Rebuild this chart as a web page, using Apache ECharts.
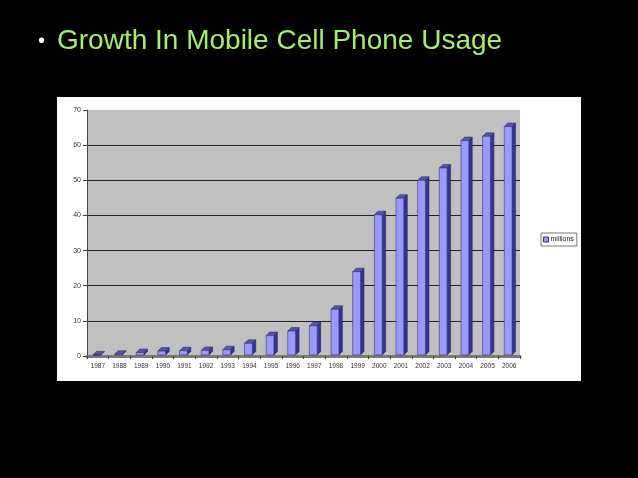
<!DOCTYPE html>
<html><head><meta charset="utf-8">
<script src="https://cdn.jsdelivr.net/npm/echarts@6/dist/echarts.min.js"></script>
<style>html,body{margin:0;padding:0;background:#000;}#c{width:638px;height:478px;}</style>
</head><body><div id="c"></div>
<script>
const years = ['1987','1988','1989','1990','1991','1992','1993','1994','1995','1996','1997','1998','1999','2000','2001','2002','2003','2004','2005','2006'];
const millions = [0.3,0.5,1.0,1.4,1.5,1.6,1.8,3.6,5.8,7.1,8.6,13.3,24.0,40.2,44.9,50.0,53.5,61.3,62.5,65.3];
const yTicks = [0,10,20,30,40,50,60,70];
const seriesName = 'millions';
const titleText = 'Growth In Mobile Cell Phone Usage';

const chart = echarts.init(document.getElementById('c'), null, {renderer:'canvas'});
chart.setOption({
  backgroundColor:'#000',
  animation:false,
  title:{
    text:'{b|•}{t|' + titleText + '}',
    left:28, top:22,
    textStyle:{fontWeight:'normal', rich:{
      b:{color:'#fff', fontSize:20, fontFamily:'Liberation Sans', fontWeight:'normal', width:19, padding:[0,0,0,5], verticalAlign:'middle'},
      t:{color:'#A3EE6C', fontSize:28, fontFamily:'Liberation Sans', fontWeight:'normal'}
    }}
  },
  graphic:[{type:'rect', z:-10, shape:{x:57,y:97,width:524,height:284}, style:{fill:'#fff'}}],
  legend:{
    data:[seriesName], orient:'vertical', left:541, top:233,
    itemWidth:5, itemHeight:5, itemGap:2, padding:[3,3,3,2],
    borderColor:'#777', borderWidth:1,
    textStyle:{fontSize:7, color:'#222', fontFamily:'Liberation Sans', padding:[0,0,0,-3]},
    icon:'rect',
    itemStyle:{color:'#9999FF', borderColor:'#333366', borderWidth:1}
  },
  grid:{left:87, right:118, top:110, bottom:122, show:true, backgroundColor:'#C0C0C0', borderWidth:0},
  xAxis:{
    type:'category', data:years,
    axisLine:{show:true, lineStyle:{color:'#7a7a7a', width:3}},
    axisTick:{show:true, alignWithLabel:false, length:3, lineStyle:{color:'#444'}},
    axisLabel:{fontSize:6.5, color:'#333', fontFamily:'Liberation Sans', margin:7}
  },
  yAxis:{
    type:'value', min:0, max:70, interval:10,
    axisLine:{show:true, lineStyle:{color:'#444'}},
    axisTick:{show:true, length:4, lineStyle:{color:'#444'}},
    axisLabel:{fontSize:7, color:'#333', fontFamily:'Liberation Sans', margin:6,
      formatter:v=> yTicks.includes(v)? String(v):''},
    splitLine:{show:true, showMaxLine:false, lineStyle:{color:'#222', width:1}}
  },
  series:[{
    name:seriesName, type:'custom',
    itemStyle:{color:'#9999FF'},
    encode:{x:0,y:1},
    data: millions.map((v,i)=>[i,v]),
    renderItem:function(params, api){
      const x = api.value(0), v = api.value(1);
      const base = api.coord([x,0]);
      const top = api.coord([x,v]);
      const bw = api.size([1,0])[0]*0.36;
      const d = 3.5;
      const cx = top[0] - 1;
      const l = cx - bw/2, r = cx + bw/2;
      const b = base[1]-1;
      return {type:'group', children:[
        {type:'polygon', shape:{points:[[r,top[1]],[r+d,top[1]-d],[r+d,b-d],[r,b]]}, style:{fill:'#333399', stroke:'#222255', lineWidth:0.5}},
        {type:'polygon', shape:{points:[[l,top[1]],[l+d,top[1]-d],[r+d,top[1]-d],[r,top[1]]]}, style:{fill:'#5555AA', stroke:'#222255', lineWidth:0.5}},
        {type:'rect', shape:{x:l, y:top[1], width:bw, height:b-top[1]}, style:{fill:'#9999FF', stroke:'#333366', lineWidth:0.6}}
      ]};
    }
  }]
});
</script></body></html>
